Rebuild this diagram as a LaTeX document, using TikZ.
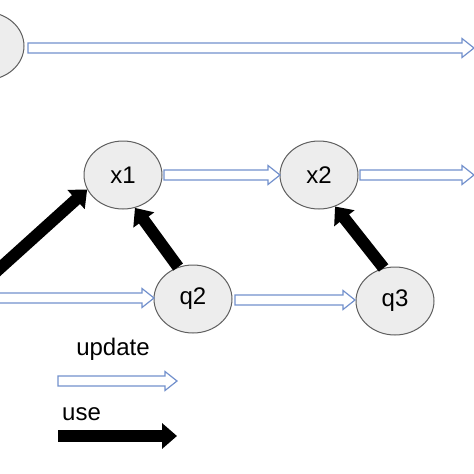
\documentclass[tikz,border=0pt]{standalone}
\usepackage{fontspec}
\setmainfont{Liberation Sans}
\usetikzlibrary{shapes.geometric,arrows.meta,calc}
\definecolor{updblue}{RGB}{115,145,205}
\definecolor{ellfill}{RGB}{237,237,237}
\definecolor{ellline}{RGB}{95,95,95}
\tikzset{
  state/.style={ellipse, draw=ellline, fill=ellfill, line width=1pt, minimum width=78pt, minimum height=68pt, inner sep=0pt, font=\fontsize{24}{28}\selectfont},
  updstyle/.style={draw=updblue, line width=1.2pt, fill=white, line join=miter},
  usearrow/.style={draw=black, line width=12pt, -{Triangle[length=15pt,width=25pt]}},
  lbl/.style={font=\fontsize{24}{28}\selectfont, inner sep=0pt}
}
\newcommand\updarrow[2]{\draw[updstyle] let \p1=(#1), \p2=(#2) in
  (\x1,\y1+5pt) -- (\x2-12pt,\y1+5pt) -- (\x2-12pt,\y1+9.5pt) -- (\x2,\y1)
  -- (\x2-12pt,\y1-9.5pt) -- (\x2-12pt,\y1-5pt) -- (\x1,\y1-5pt) -- cycle;}
\begin{document}
\begin{tikzpicture}[x=1pt,y=-1pt]
\useasboundingbox (0,0) rectangle (474,474);
\clip (0,0) rectangle (474,474);
\fill[white] (0,0) rectangle (474,474);
% nodes
\node[state] (x0) at (-15,46) {};
\node[state] (x1) at (123,175) {x1};
\node[state] (x2) at (319,175) {x2};
\node[state] (q2) at (193,299) {q2};
\node[state] (q3) at (395,301) {q3};
% free ends
\coordinate (a0s) at (28,48);
\coordinate (a0e) at (474,48);
\coordinate (a1s) at (164,175);
\coordinate (a1e) at (280,175);
\coordinate (a2s) at (360,175);
\coordinate (a2e) at (474,175);
\coordinate (a3s) at (-5,298);
\coordinate (a3e) at (154,298);
\coordinate (a4s) at (235,300);
\coordinate (a4e) at (355,300);
\coordinate (ls) at (-12,279);
% update arrows
\updarrow{a0s}{a0e}
\updarrow{a1s}{a1e}
\updarrow{a2s}{a2e}
\updarrow{a3s}{a3e}
\updarrow{a4s}{a4e}
% use arrows
\draw[usearrow] (ls) -- (x1.202);
\draw[usearrow] (q2.115) -- (x1.-70);
\draw[usearrow] (q3.109) -- (x2.-63);
% legend
\node[lbl] (tupd) at (113,349) {update};
\node[lbl, anchor=west] (tuse) at (62,414) {use};
\coordinate (lus) at (58,381);
\coordinate (lue) at (177,381);
\updarrow{lus}{lue}
\coordinate (lbs) at (58,436);
\coordinate (lbe) at (177,436);
\draw[usearrow] (lbs) -- (lbe);
\end{tikzpicture}
\end{document}
